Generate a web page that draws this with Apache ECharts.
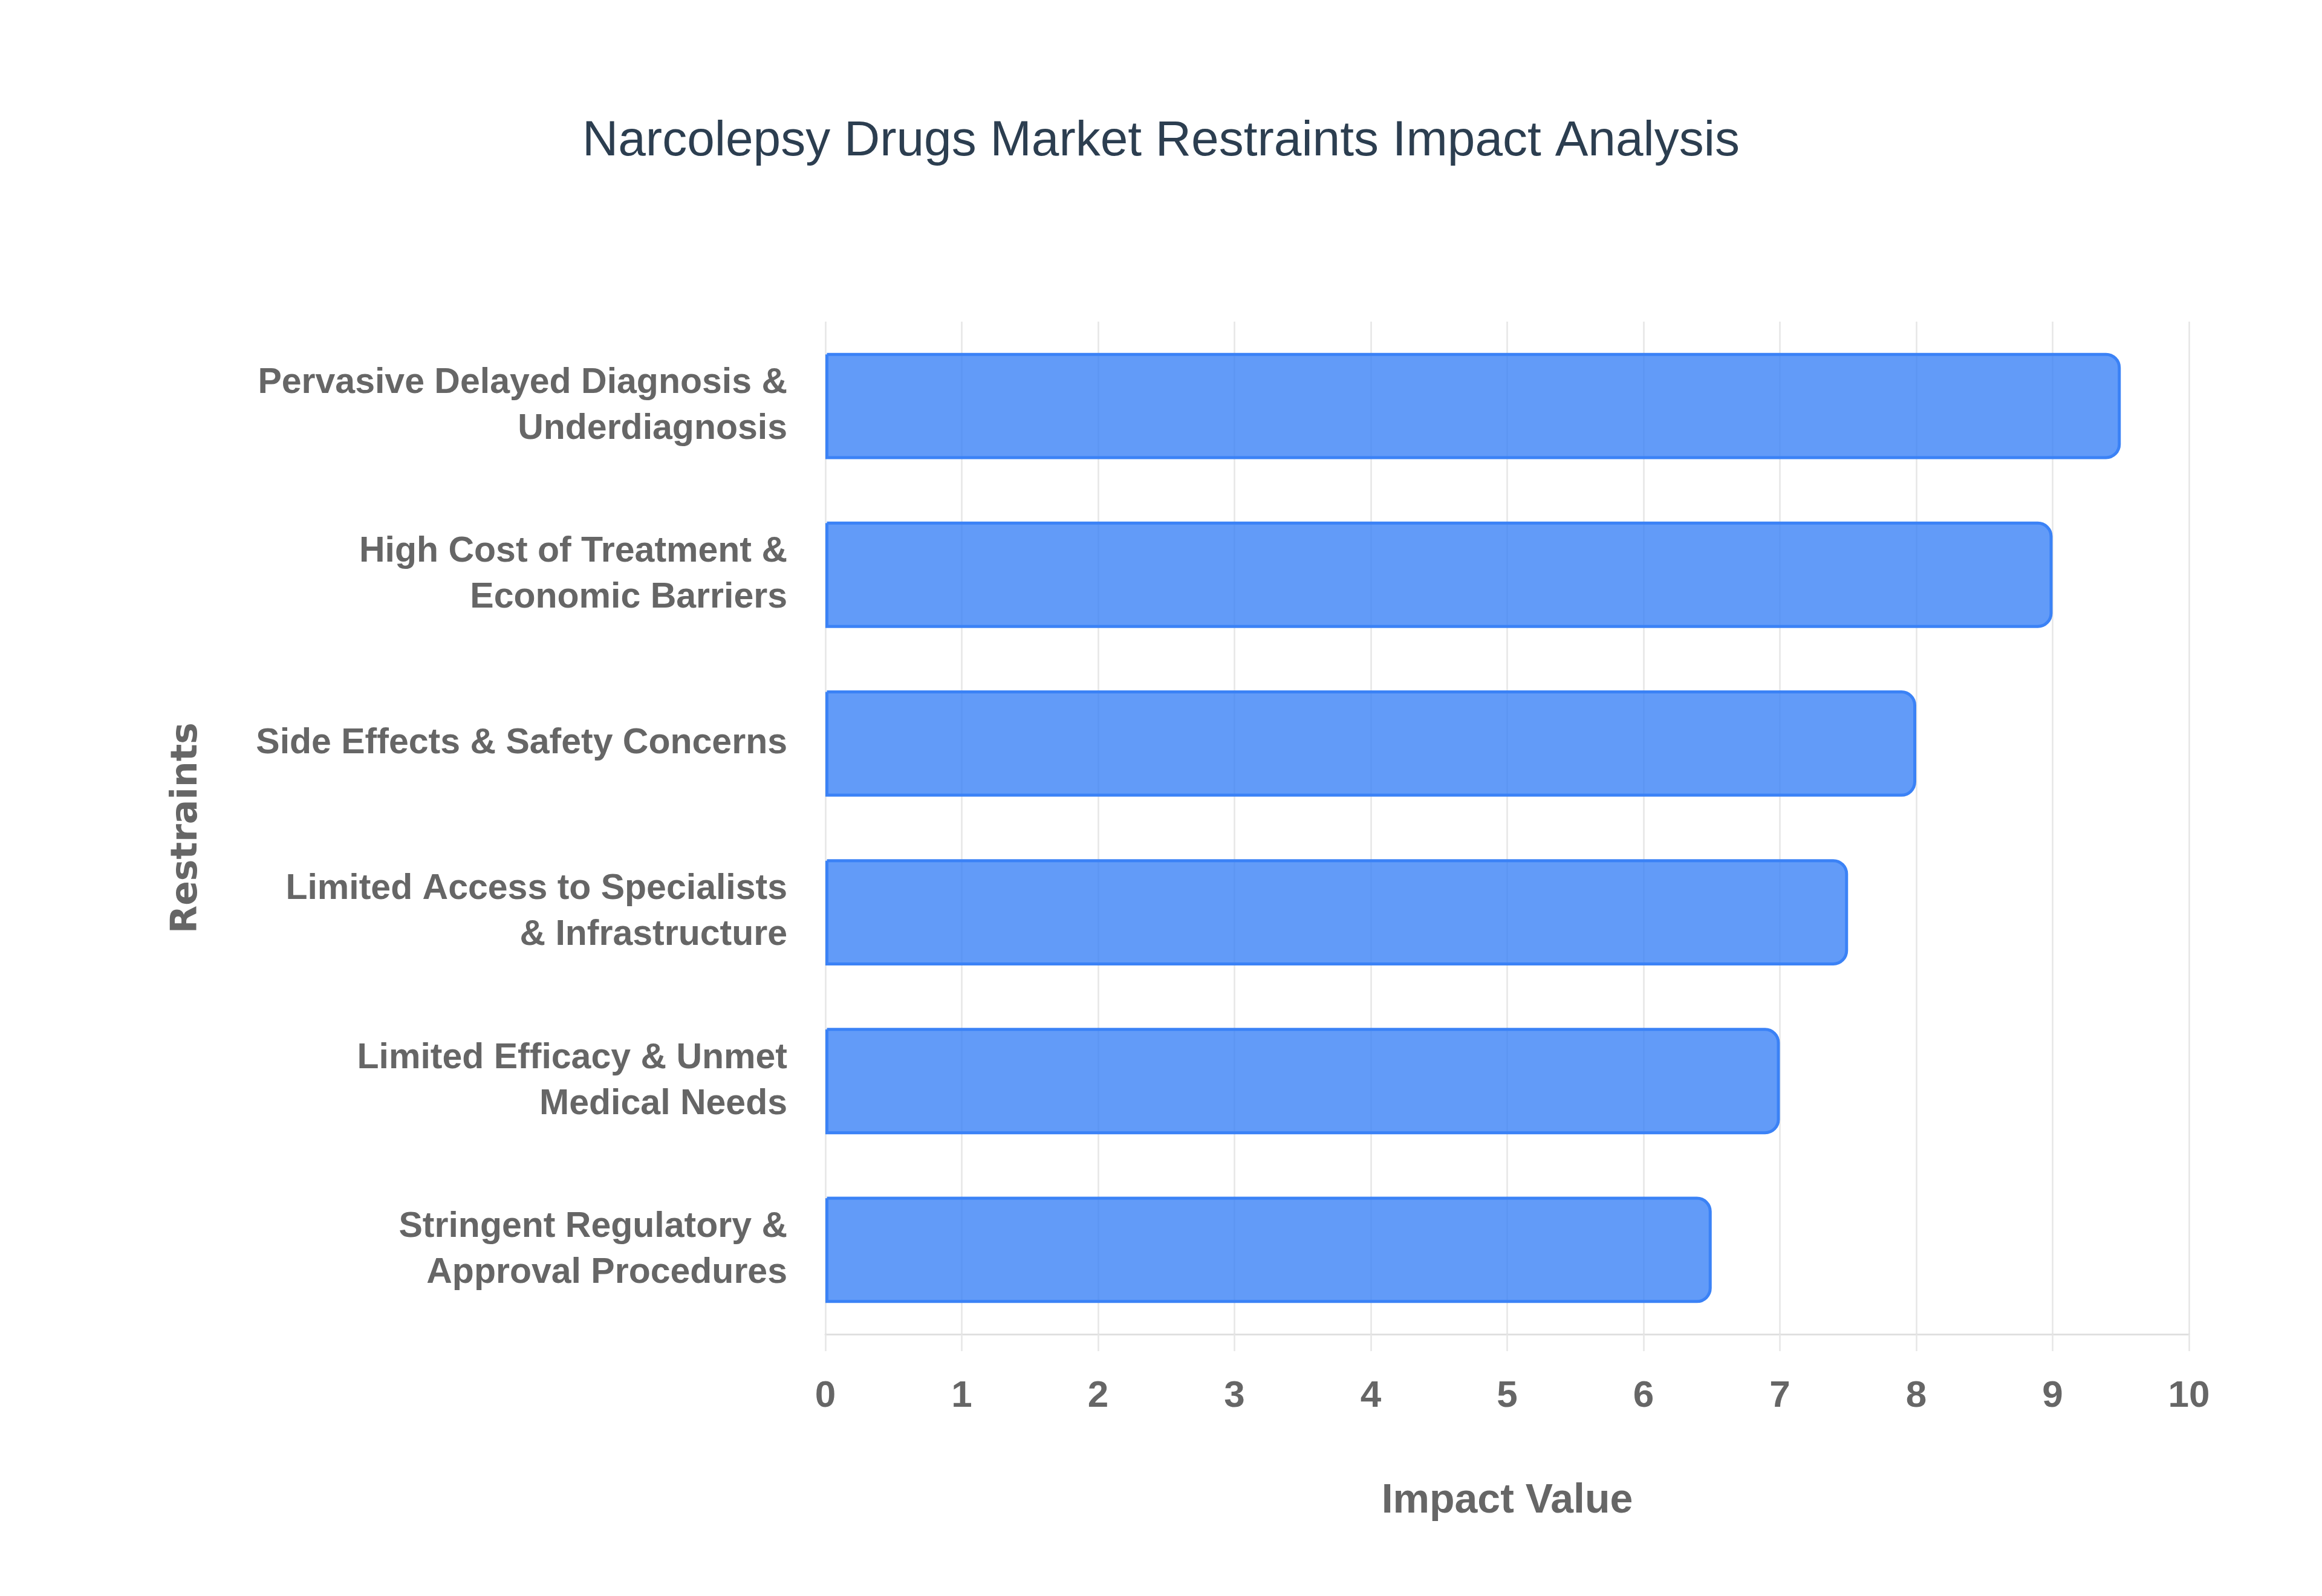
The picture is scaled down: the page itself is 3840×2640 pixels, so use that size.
<!DOCTYPE html>
<html>
<head>
<meta charset="utf-8">
<style>
  html, body { margin: 0; padding: 0; background: #ffffff; overflow: hidden; }
  #chart { width: 3840px; height: 2640px; }
</style>
<script src="https://cdn.jsdelivr.net/npm/echarts@6/dist/echarts.min.js"></script>
</head>
<body>
<div id="chart"></div>
<script>
const chartTitle = 'Narcolepsy Drugs Market Restraints Impact Analysis';
const categories = [
  'Pervasive Delayed Diagnosis &\nUnderdiagnosis',
  'High Cost of Treatment &\nEconomic Barriers',
  'Side Effects & Safety Concerns',
  'Limited Access to Specialists\n& Infrastructure',
  'Limited Efficacy & Unmet\nMedical Needs',
  'Stringent Regulatory &\nApproval Procedures'
];
const impactValues = [9.5, 9, 8, 7.5, 7, 6.5];
const xAxisName = 'Impact Value';
const yAxisName = 'Restraints';

const labelFont = "'Liberation Sans', Arial, sans-serif";

const chart = echarts.init(document.getElementById('chart'), null, { renderer: 'canvas' });
chart.setOption({
  backgroundColor: '#ffffff',
  animation: false,
  title: {
    text: chartTitle,
    left: 'center',
    top: 188,
    textStyle: {
      fontFamily: "'Liberation Sans', Arial, sans-serif",
      fontSize: 82,
      fontWeight: 'normal',
      color: '#2c3e50'
    }
  },
  grid: {
    left: 1365,
    right: 220,
    top: 532,
    bottom: 433,
    containLabel: false
  },
  xAxis: {
    type: 'value',
    min: 0,
    max: 10,
    interval: 1,
    name: xAxisName,
    nameLocation: 'middle',
    nameGap: 242,
    nameMoveOverlap: false,
    nameTextStyle: {
      fontFamily: labelFont,
      fontSize: 68,
      fontWeight: 'bold',
      color: '#666666'
    },
    axisLine: { show: true, lineStyle: { color: '#e0e0e0', width: 3 } },
    axisTick: { show: true, length: 28, lineStyle: { color: '#e6e6e6', width: 2.5 } },
    axisLabel: {
      margin: 72,
      fontFamily: labelFont,
      fontSize: 62,
      fontWeight: 'bold',
      color: '#666666'
    },
    splitLine: { show: true, lineStyle: { color: '#e6e6e6', width: 2.5 } }
  },
  yAxis: {
    type: 'category',
    data: categories,
    inverse: true,
    name: yAxisName,
    nameLocation: 'middle',
    nameGap: 1026,
    nameRotate: 90,
    nameMoveOverlap: false,
    nameTextStyle: {
      fontFamily: "'DejaVu Sans', Verdana, sans-serif",
      fontSize: 60,
      fontWeight: 'bold',
      color: '#666666'
    },
    axisLine: { show: false },
    axisTick: { show: false },
    axisLabel: {
      margin: 63,
      fontFamily: labelFont,
      fontSize: 59,
      fontWeight: 'bold',
      color: '#666666',
      lineHeight: 76,
      align: 'right'
    },
    splitLine: { show: false }
  },
  series: [{
    type: 'bar',
    data: impactValues,
    barCategoryGap: '37%',
    itemStyle: {
      color: 'rgba(59,130,246,0.8)',
      borderColor: '#3B82F6',
      borderWidth: 5,
      borderRadius: [0, 22, 22, 0]
    }
  }]
});
</script>
</body>
</html>
